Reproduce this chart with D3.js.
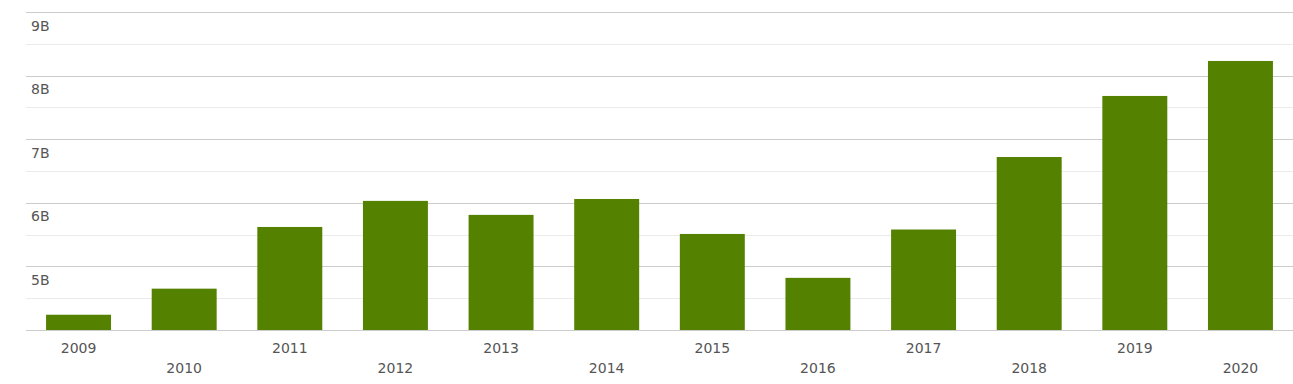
<!DOCTYPE html>
<html>
<head>
<meta charset="utf-8">
<script src="https://cdn.jsdelivr.net/npm/d3@7"></script>
<style>
  body { margin: 0; background: #fff; }
  svg { display: block; font-family: "DejaVu Sans", sans-serif; }
</style>
</head>
<body>
<svg id="chart" width="1293" height="384"></svg>
<script>
// values (billions)
var years = ["2009","2010","2011","2012","2013","2014","2015","2016","2017","2018","2019","2020"];
var values = [4.24, 4.65, 5.62, 6.03, 5.81, 6.06, 5.51, 4.82, 5.58, 6.72, 7.68, 8.23];
var majorTicks = [5, 6, 7, 8, 9];
var minorTicks = [4.5, 5.5, 6.5, 7.5, 8.5];

var width = 1293, height = 384;
var margin = {top: 12, right: 0, bottom: 54, left: 26};

var svg = d3.select("#chart");
var g = svg.append("g").attr("transform", "translate(" + margin.left + "," + margin.top + ")");
var w = width - margin.left - margin.right;
var h = height - margin.top - margin.bottom;

var x = d3.scaleBand().domain(years).range([0, w]).paddingInner(0.385).paddingOuter(0.19);
var y = d3.scaleLinear().domain([4, 9]).range([h, 0]);

// minor grid
g.selectAll(".minor").data(minorTicks).enter().append("line")
  .attr("x1", 0).attr("x2", w)
  .attr("y1", d => Math.round(y(d)) + 0.5).attr("y2", d => Math.round(y(d)) + 0.5)
  .attr("stroke", "#ebebeb");

// major grid
g.selectAll(".major").data(majorTicks).enter().append("line")
  .attr("x1", 0).attr("x2", w)
  .attr("y1", d => Math.round(y(d)) + 0.5).attr("y2", d => Math.round(y(d)) + 0.5)
  .attr("stroke", "#cccccc");

g.selectAll(".ylab").data(majorTicks).enter().append("text")
  .attr("x", 5).attr("y", d => y(d) + 18.5)
  .attr("fill", "#555").style("font-size", "14px")
  .text(d => d + "B");

// bars
g.selectAll(".bar").data(values).enter().append("rect")
  .attr("x", (d, i) => x(years[i]))
  .attr("width", x.bandwidth())
  .attr("y", d => y(d))
  .attr("height", d => y(4) - y(d))
  .attr("fill", "#548200");

// baseline
g.append("line").attr("x1", 0).attr("x2", w)
  .attr("y1", Math.round(y(4)) + 0.5).attr("y2", Math.round(y(4)) + 0.5)
  .attr("stroke", "#cccccc");

// x labels, staggered
g.selectAll(".xlab").data(years).enter().append("text")
  .attr("x", d => x(d) + x.bandwidth() / 2)
  .attr("y", (d, i) => h + (i % 2 === 0 ? 23 : 43))
  .attr("text-anchor", "middle")
  .attr("fill", "#555").style("font-size", "14px")
  .text(d => d);
</script>
</body>
</html>
